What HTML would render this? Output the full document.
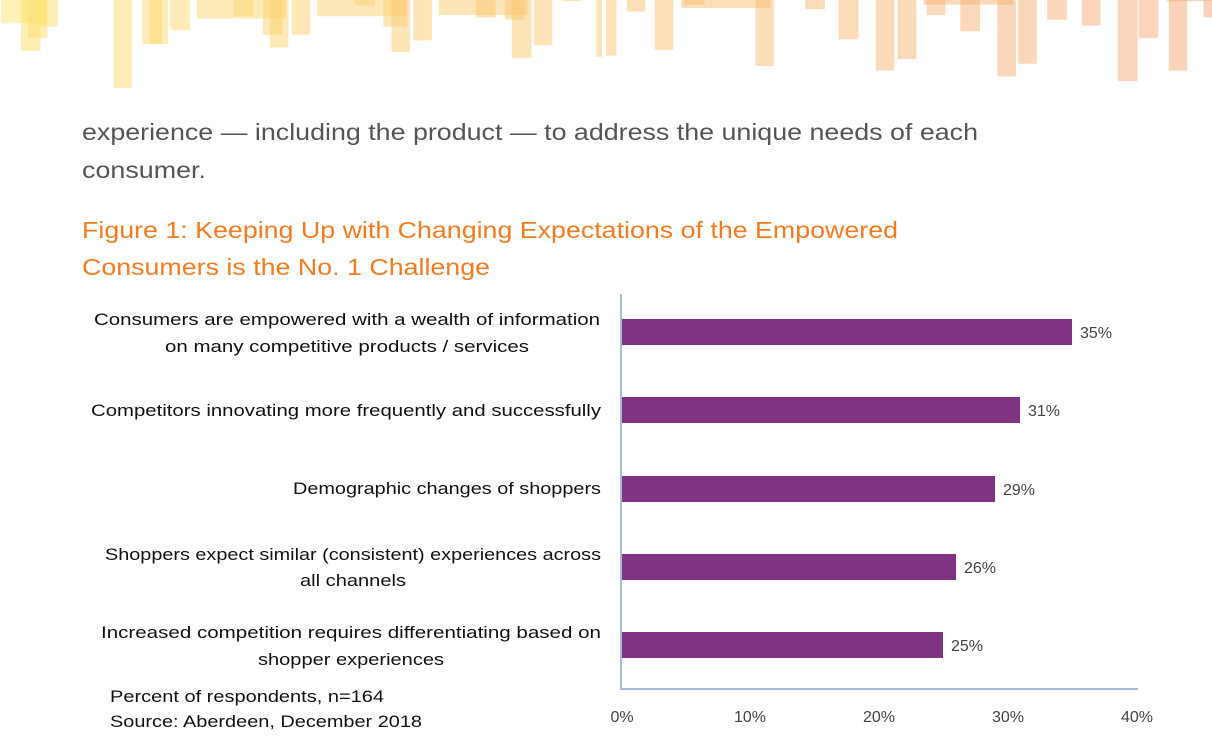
<!DOCTYPE html>
<html><head><meta charset="utf-8"><style>
html,body{margin:0;padding:0;background:#fff;}
svg{display:block;}
</style></head><body>
<svg id="s" width="1212" height="740" xmlns="http://www.w3.org/2000/svg">
<g id="deco"></g>
<g font-family="Liberation Sans, Arial, sans-serif" fill="#555">
<text x="82" y="140" font-size="23" textLength="896" lengthAdjust="spacingAndGlyphs">experience — including the product — to address the unique needs of each</text>
<text x="82" y="178" font-size="23" textLength="124" lengthAdjust="spacingAndGlyphs">consumer.</text>
</g>
<g font-family="Liberation Sans, Arial, sans-serif" fill="#f47b20" font-size="23">
<text x="82" y="238" textLength="816" lengthAdjust="spacingAndGlyphs">Figure 1: Keeping Up with Changing Expectations of the Empowered</text>
<text x="82" y="275" textLength="408" lengthAdjust="spacingAndGlyphs">Consumers is the No. 1 Challenge</text>
</g>
<g font-family="Liberation Sans, Arial, sans-serif" fill="#111" font-size="17" text-anchor="middle">
<text x="347" y="325" textLength="506" lengthAdjust="spacingAndGlyphs">Consumers are empowered with a wealth of information</text>
<text x="347" y="352" textLength="364" lengthAdjust="spacingAndGlyphs">on many competitive products / services</text>
<text x="346" y="416" textLength="510" lengthAdjust="spacingAndGlyphs">Competitors innovating more frequently and successfully</text>
<text x="447" y="494" textLength="308" lengthAdjust="spacingAndGlyphs">Demographic changes of shoppers</text>
<text x="353" y="560" textLength="496" lengthAdjust="spacingAndGlyphs">Shoppers expect similar (consistent) experiences across</text>
<text x="353" y="586" textLength="106" lengthAdjust="spacingAndGlyphs">all channels</text>
<text x="351" y="638" textLength="500" lengthAdjust="spacingAndGlyphs">Increased competition requires differentiating based on</text>
<text x="351" y="665" textLength="186" lengthAdjust="spacingAndGlyphs">shopper experiences</text>
</g>
<g font-family="Liberation Sans, Arial, sans-serif" fill="#111" font-size="17">
<text x="110" y="702" textLength="274" lengthAdjust="spacingAndGlyphs">Percent of respondents, n=164</text>
<text x="110" y="727" textLength="312" lengthAdjust="spacingAndGlyphs">Source: Aberdeen, December 2018</text>
</g>
<g fill="#7f3381">
<rect x="621" y="319" width="451" height="26"/>
<rect x="621" y="397" width="399" height="26"/>
<rect x="621" y="476" width="374" height="26"/>
<rect x="621" y="554" width="335" height="26"/>
<rect x="621" y="632" width="322" height="26"/>
</g>
<g font-family="Liberation Sans, Arial, sans-serif" fill="#444" font-size="16">
<text x="1080" y="338">35%</text>
<text x="1028" y="416">31%</text>
<text x="1003" y="495">29%</text>
<text x="964" y="573">26%</text>
<text x="951" y="651">25%</text>
</g>
<g stroke="#a8bce0" stroke-width="2" fill="none">
<line x1="621" y1="294" x2="621" y2="689"/>
<line x1="620" y1="689" x2="1138" y2="689"/>
</g>
<g font-family="Liberation Sans, Arial, sans-serif" fill="#444" font-size="16" text-anchor="middle">
<text x="622" y="722">0%</text>
<text x="750" y="722">10%</text>
<text x="879" y="722">20%</text>
<text x="1008" y="722">30%</text>
<text x="1137" y="722">40%</text>
</g>
</svg>
<script>
var L=[[1,0,41,20],[18,0,35,44],[24,0,41,33],[33,0,50,23],[98,0,114,76],[123,0,145,38],[129,0,140,38],[147,0,164,26],[170,0,247,16],[202,0,219,14],[227,0,244,30],[233,0,249,41],[252,0,268,30],[274,0,351,14],[306,0,324,5],[331,0,352,23],[338,0,354,45],[357,0,373,35],[379,0,456,13],[411,0,428,15],[436,0,453,17],[442,0,459,50],[461,0,477,39],[486,0,502,1],[515,0,520,49]];
var R=[[0,0,9,48],[18,0,34,10],[42,0,58,43],[65,0,142,7],[67,0,85,4],[129,0,145,57],[172,0,189,8],[201,0,218,34],[233,0,249,61],[252,0,268,51],[274,0,352,4],[277,0,293,13],[306,0,323,27],[338,0,354,66],[356,0,372,55],[381,0,398,17],[411,0,427,22],[442,0,459,70],[460,0,477,33],[486,0,502,61],[484,0,606,1],[516,0,524,15]];
var k=1.158,g=document.getElementById('deco'),ns='http://www.w3.org/2000/svg';
function add(x1,y2,x2,yy){
 var t=Math.min(1,x1/1212);
 var r=253-t*8,gg=Math.round(225-t*60),b=Math.round(110+t*10);
 var e=document.createElementNS(ns,'rect');
 e.setAttribute('x',x1);e.setAttribute('y',0);e.setAttribute('width',x2-x1);e.setAttribute('height',yy);
 e.setAttribute('fill','rgba('+r+','+gg+','+b+',0.5)');g.appendChild(e);
}
L.forEach(function(a){add(a[0]*k,0,a[2]*k,a[3]*k);});
R.forEach(function(a){add(606+a[0]*k,0,Math.min(1212,606+a[2]*k),a[3]*k);});
</script>
</body></html>
